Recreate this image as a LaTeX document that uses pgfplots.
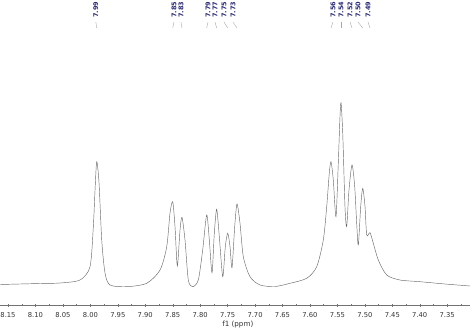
\documentclass[border=0pt]{standalone}
\usepackage{pgfplots}
\pgfplotsset{compat=1.18}
\usepackage{fontspec}
\setmainfont{DejaVu Sans}
\definecolor{lab}{RGB}{40,40,120}
\definecolor{spec}{RGB}{105,105,105}
\begin{document}
\begin{tikzpicture}
\useasboundingbox (0,-25bp) rectangle (474bp,305bp);
\begin{axis}[
  scale only axis, width=470bp, height=305bp,
  xmin=7.3085, xmax=8.1646, x dir=reverse,
  ymin=0, ymax=305,
  axis x line=bottom, axis y line=none,
  x axis line style={-, draw=black!55, line width=0.5pt},
  xtick={7.35,7.40,7.45,7.50,7.55,7.60,7.65,7.70,7.75,7.80,7.85,7.90,7.95,8.00,8.05,8.10,8.15},
  xticklabels={7.35,7.40,7.45,7.50,7.55,7.60,7.65,7.70,7.75,7.80,7.85,7.90,7.95,8.00,8.05,8.10,8.15},
  minor xtick={7.325,7.375,7.425,7.475,7.525,7.575,7.625,7.675,7.725,7.775,7.825,7.875,7.925,7.975,8.025,8.075,8.125},
  tick align=center,
  major tick length=3bp, minor tick length=2bp,
  tick style={draw=black!55, line width=0.4pt},
  xticklabel style={font=\fontsize{6.8}{7}\selectfont, text=black!80, anchor=center, yshift=-9bp},
  xlabel={f1 (ppm)},
  xlabel style={at={(axis description cs:0.506,0)}, anchor=center, yshift=-19.5bp, font=\fontsize{7.2}{8}\selectfont, text=black!80},
  clip=false,
]
\addplot[spec, line width=0.45pt, smooth, tension=0.45] coordinates {
(8.1646,20.5) (8.1281,21) (8.0917,21.5) (8.0553,22) (8.0189,25)
(8.0006,38.3) (7.9946,78.3) (7.9915,115) (7.9884,143.3) (7.9842,122)
(7.9793,65) (7.9733,32) (7.9642,20) (7.9338,18.3) (7.8974,21.7)
(7.8731,35) (7.8609,58.3) (7.8549,92) (7.8500,103.3) (7.8458,78.3)
(7.8416,39) (7.8367,75) (7.8331,87.7) (7.8276,65) (7.8216,25)
(7.8136,18.3) (7.8034,25) (7.7954,55) (7.7881,90) (7.7833,65)
(7.7784,32.3) (7.7742,72) (7.7699,95.7) (7.7651,68.3) (7.7589,28.3)
(7.7542,58.3) (7.7498,71.7) (7.7456,58.3) (7.7420,37.3) (7.7371,78.3)
(7.7329,101) (7.7274,81.7) (7.7214,48.3) (7.7092,28.3) (7.6910,20)
(7.6637,18.5) (7.6363,21.7) (7.6059,26.7) (7.5877,38.3) (7.5757,65)
(7.5695,98.3) (7.5648,131.7) (7.5617,143.3) (7.5575,125) (7.5526,88.3)
(7.5484,141.7) (7.5453,188.3) (7.5434,202.3) (7.5403,171.7) (7.5362,98.3)
(7.5331,78.3) (7.5289,115) (7.5234,140) (7.5185,118.3) (7.5149,81.7)
(7.5119,60) (7.5076,98.3) (7.5039,116.7) (7.4997,98.3) (7.4966,70)
(7.4906,72.3) (7.4846,61.7) (7.4755,45) (7.4602,30) (7.4360,25)
(7.3996,23.3) (7.3540,21) (7.3085,19)
};
% peak labels
\begin{scope}[every node/.style={rotate=90, anchor=west, inner sep=0pt, text=lab, font=\fontsize{6.5}{7}\selectfont\bfseries}]
\node at (axis cs:7.9900,287) {7.99};
\node at (axis cs:7.8476,287) {7.85};
\node at (axis cs:7.8349,287) {7.83};
\node at (axis cs:7.7857,287) {7.79};
\node at (axis cs:7.7730,287) {7.77};
\node at (axis cs:7.7566,287) {7.75};
\node at (axis cs:7.7402,287) {7.73};
\node at (axis cs:7.5580,287) {7.56};
\node at (axis cs:7.5434,287) {7.54};
\node at (axis cs:7.5270,287) {7.52};
\node at (axis cs:7.5125,287) {7.50};
\node at (axis cs:7.4943,287) {7.49};
\end{scope}
\begin{scope}[black!35, line width=0.4pt]
\draw (axis cs:7.9900,283) -- (axis cs:7.9884,277);
\draw (axis cs:7.8476,283) -- (axis cs:7.8500,277);
\draw (axis cs:7.8349,283) -- (axis cs:7.8331,277);
\draw (axis cs:7.7857,283) -- (axis cs:7.7881,277);
\draw (axis cs:7.7730,283) -- (axis cs:7.7699,277);
\draw (axis cs:7.7566,283) -- (axis cs:7.7498,277);
\draw (axis cs:7.7402,283) -- (axis cs:7.7329,277);
\draw (axis cs:7.5580,283) -- (axis cs:7.5617,277);
\draw (axis cs:7.5434,283) -- (axis cs:7.5434,277);
\draw (axis cs:7.5270,283) -- (axis cs:7.5234,277);
\draw (axis cs:7.5125,283) -- (axis cs:7.5039,277);
\draw (axis cs:7.4943,283) -- (axis cs:7.4906,277);
\end{scope}
\end{axis}
\end{tikzpicture}
\end{document}
